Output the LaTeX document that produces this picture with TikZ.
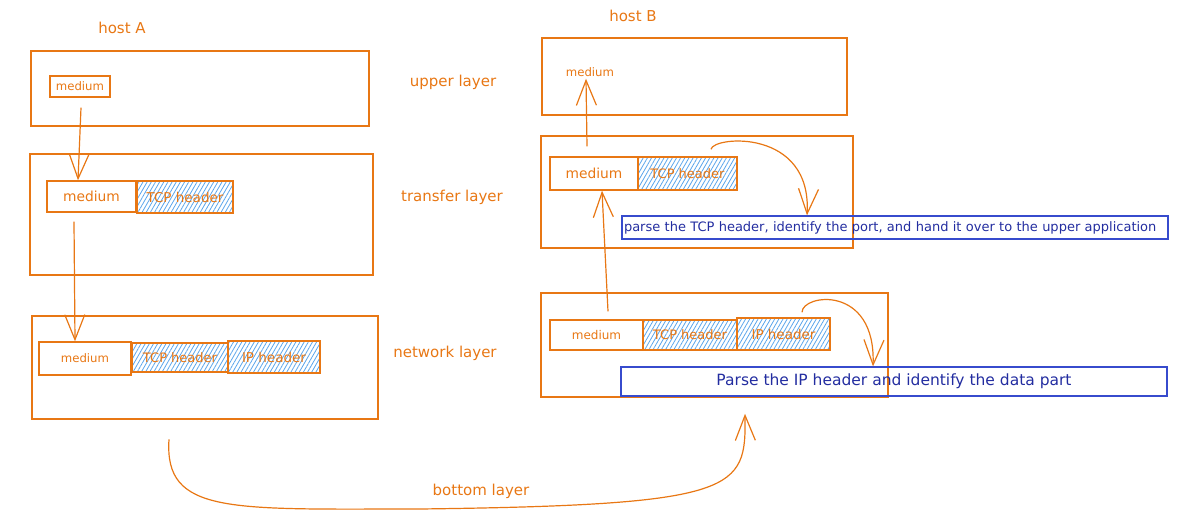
\documentclass[tikz,border=0pt]{standalone}
\usepackage{fontspec}
\setmainfont{DejaVu Sans}
\usetikzlibrary{patterns.meta,arrows.meta,calc}
\definecolor{orng}{RGB}{232,119,20}
\definecolor{hatch}{RGB}{90,165,235}
\definecolor{bline}{RGB}{55,75,205}
\definecolor{btext}{RGB}{35,45,160}
\newcommand{\fs}[1]{\fontsize{#1}{#1}\selectfont}
\tikzset{
  layerbox/.style={draw=orng,line width=1.6pt,rectangle,inner sep=0pt},
  cellbox/.style={draw=orng,line width=1.4pt,rectangle,inner sep=0pt,text=orng},
  hcell/.style={cellbox,pattern={Lines[angle=60,distance=3.6pt,line width=0.8pt]},pattern color=hatch},
  notebox/.style={draw=bline,line width=1.2pt,rectangle,inner sep=0pt,text=btext},
  lbl/.style={text=orng,font=\fs{15}},
  arr/.style={draw=orng,line width=1.2pt,-{Straight Barb[length=25pt,width=20pt,line width=1.2pt]}},
}
\begin{document}
\begin{tikzpicture}[x=1pt,y=-1pt]
\path[use as bounding box] (0,0) rectangle (1200,516);

% host A
\node[lbl] (hostA) at (122,28) {host A};
\node[layerbox,minimum width=338,minimum height=75] (upA) at (200,88.5) {};
\node[cellbox,minimum width=60,minimum height=21,font=\fs{11.7}] (medA0) at (80,86.5) {medium};
\node[layerbox,minimum width=343,minimum height=121] (trA) at (201.5,214.5) {};
\node[cellbox,minimum width=89,minimum height=31,font=\fs{13.8}] (medA1) at (91.5,196.5) {medium};
\node[hcell,minimum width=96,minimum height=32,font=\fs{13.5}] (tcpA1) at (185,197) {TCP header};
\node[layerbox,minimum width=346,minimum height=103] (netA) at (205,367.5) {};
\node[cellbox,minimum width=92,minimum height=33,font=\fs{11.7}] (medA2) at (85,358.5) {medium};
\node[hcell,minimum width=96,minimum height=29,font=\fs{13}] (tcpA2) at (180,357.5) {TCP header};
\node[hcell,minimum width=92,minimum height=32,font=\fs{13.5}] (ipA2) at (274,357) {IP header};

% layer labels
\node[lbl] (lup) at (453,82) {upper layer};
\node[lbl] (ltr) at (452,197) {transfer layer};
\node[lbl] (lnet) at (445,353) {network layer};
\node[lbl] (lbot) at (481,491) {bottom layer};

% host B
\node[lbl] (hostB) at (633,16) {host B};
\node[layerbox,minimum width=305,minimum height=77] (upB) at (694.5,76.5) {};
\node[text=orng,font=\fs{11.7},inner sep=2pt] (medB0) at (590,72) {medium};
\node[layerbox,minimum width=312,minimum height=112] (trB) at (697,192) {};
\node[cellbox,minimum width=88,minimum height=33,font=\fs{13.8}] (medB1) at (594,173.5) {medium};
\node[hcell,minimum width=99,minimum height=33,font=\fs{13}] (tcpB1) at (687.5,173.5) {TCP header};
\node[notebox,minimum height=23,inner xsep=2pt,text width=542pt,align=left,font=\fs{13}] (noteB1) at (895,227.5) {parse the TCP header, identify the port, and hand it over to the upper application};
\node[layerbox,minimum width=347,minimum height=104] (netB) at (714.5,345) {};
\node[cellbox,minimum width=93,minimum height=30,font=\fs{12}] (medB2) at (596.5,335) {medium};
\node[hcell,minimum width=94,minimum height=30,font=\fs{13}] (tcpB2) at (690,335) {TCP header};
\node[hcell,minimum width=93,minimum height=32,font=\fs{13.5}] (ipB2) at (783.5,334) {IP header};
\node[notebox,minimum width=546,minimum height=29,font=\fs{15.5}] (noteB2) at (894,381.5) {Parse the IP header and identify the data part};

% arrows host A
\draw[arr] ($(medA0.south)+(1,10)$) -- ([xshift=-13.5pt]medA1.north);
\draw[arr] ($(medA1.south)+(-17.5,9)$) -- ([xshift=-10pt]medA2.north);

% arrows host B
\draw[arr] ($(medB1.north)+(-7,-10)$) -- ([xshift=-4pt]medB0.south);
\draw[arr] ($(medB2.north)+(11.5,-8)$) -- ($(medB1.south)+(8,0)$);
\draw[arr] ($(tcpB1.north)+(23.5,-7)$) .. controls (713,136) and (812,128) .. ($(noteB1.north)+(-88,0)$);
\draw[arr] ($(ipB2.north)+(18.5,-5)$) .. controls (802,294) and (876,284) .. ($(noteB2.north)+(-21,0)$);

% bottom layer
\coordinate (bs) at ($(netA.south)+(-36,19.5)$);
\coordinate (be) at ($(netB.south)+(30.5,16)$);
\draw[arr] (bs) .. controls (164,515) and (230,509) .. (420,509) .. controls (740,505) and (746,490) .. (be);
\end{tikzpicture}
\end{document}
